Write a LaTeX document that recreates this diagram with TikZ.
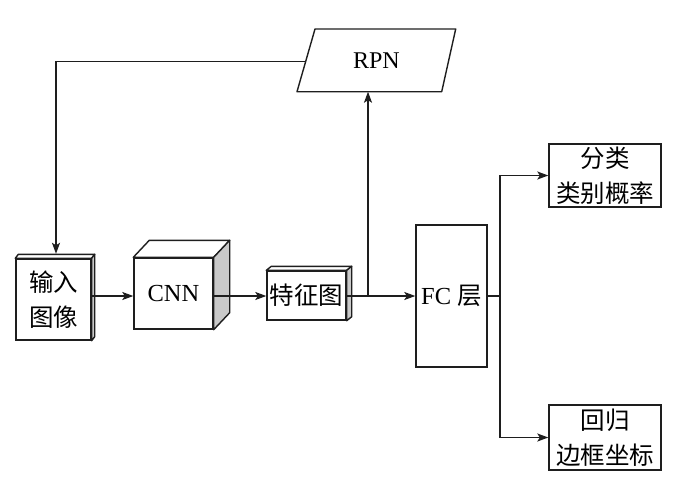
\documentclass[tikz,border=0pt]{standalone}
\usepackage{fontspec}
\setmainfont{Liberation Serif}
\newfontfamily\cjk{Noto Sans CJK SC}
\usetikzlibrary{arrows.meta,calc}
\definecolor{ink}{HTML}{1E1E1E}
\definecolor{side}{HTML}{C9C9C9}
\tikzset{
  box/.style={draw=ink, line width=1.4pt, fill=white, inner sep=0pt, align=center,
    font=\fontsize{24.5pt}{35pt}\selectfont},
  conn/.style={draw=ink, line width=1.4pt},
  arr/.style={conn, -{Stealth[length=11pt,width=8pt,inset=2.5pt]}},
}
\newcommand\cubefaces[3]{%
  \filldraw[draw=ink, line width=1.4pt, fill=white, line join=round]
    (#1.north west) -- ++(#2pt,#3pt) -- ($(#1.north east)+(#2pt,#3pt)$) -- (#1.north east) -- cycle;
  \filldraw[draw=ink, line width=1.4pt, fill=side, line join=round]
    (#1.north east) -- ++(#2pt,#3pt) -- ($(#1.south east)+(#2pt,#3pt)$) -- (#1.south east) -- cycle;
}
\begin{document}
\begin{tikzpicture}[x=1pt,y=-1pt]
\useasboundingbox (0,0) rectangle (687,482);
% nodes
\node[box, minimum width=75pt, minimum height=81pt] (input) at (53.5,299.5) {\cjk 输入\\\cjk 图像};
\node[box, minimum width=79pt, minimum height=71pt] (cnn) at (173.5,293.5) {CNN};
\node[box, minimum width=79pt, minimum height=49pt] (feat) at (306.5,295.5) {\cjk 特征图};
\node[box, minimum width=71pt, minimum height=142pt] (fc) at (451.5,296) {FC {\cjk 层}};
\node[box, minimum width=112pt, minimum height=63pt] (cls) at (605,175.5) {\cjk 分类\\\cjk 类别概率};
\node[box, minimum width=112pt, minimum height=65pt] (reg) at (605,437.5) {\cjk 回归\\\cjk 边框坐标};
\cubefaces{input}{3}{4}
\cubefaces{cnn}{16}{17}
\cubefaces{feat}{5}{4}
% RPN parallelogram
\coordinate (rbl) at (297,91.7);
\coordinate (rbr) at (441.7,91.7);
\coordinate (rtr) at (455.7,29);
\coordinate (rtl) at (315,29);
\draw[draw=ink, line width=1.4pt, line join=round] (rbl) -- (rbr) -- (rtr) -- (rtl) -- cycle;
\node[font=\fontsize{24pt}{28pt}\selectfont] (rpn) at (376.35,60.35) {RPN};
\coordinate (rpnL) at (305.6,61.7);
\coordinate (rpnB) at (368,91.7);
% junctions
\coordinate (main) at (0,296);
\coordinate (j1) at (368,296);
\coordinate (j2) at (500,296);
\coordinate (inTop) at ($(input.north)+(2.5pt,4.5pt)$);
% connectors
\draw[arr] (input.east |- main) -- (cnn.west |- main);
\draw[arr] (cnn.east |- main) -- (feat.west |- main);
\draw[arr] (feat.east |- main) -- (fc.west |- main);
\draw[arr] (j1) -- (rpnB);
\draw[arr] (rpnL) -| (inTop);
\draw[conn] (fc.east |- main) -- (j2);
\draw[arr] (j2) |- (cls.west);
\draw[arr] (j2) |- (reg.west);
\end{tikzpicture}
\end{document}
